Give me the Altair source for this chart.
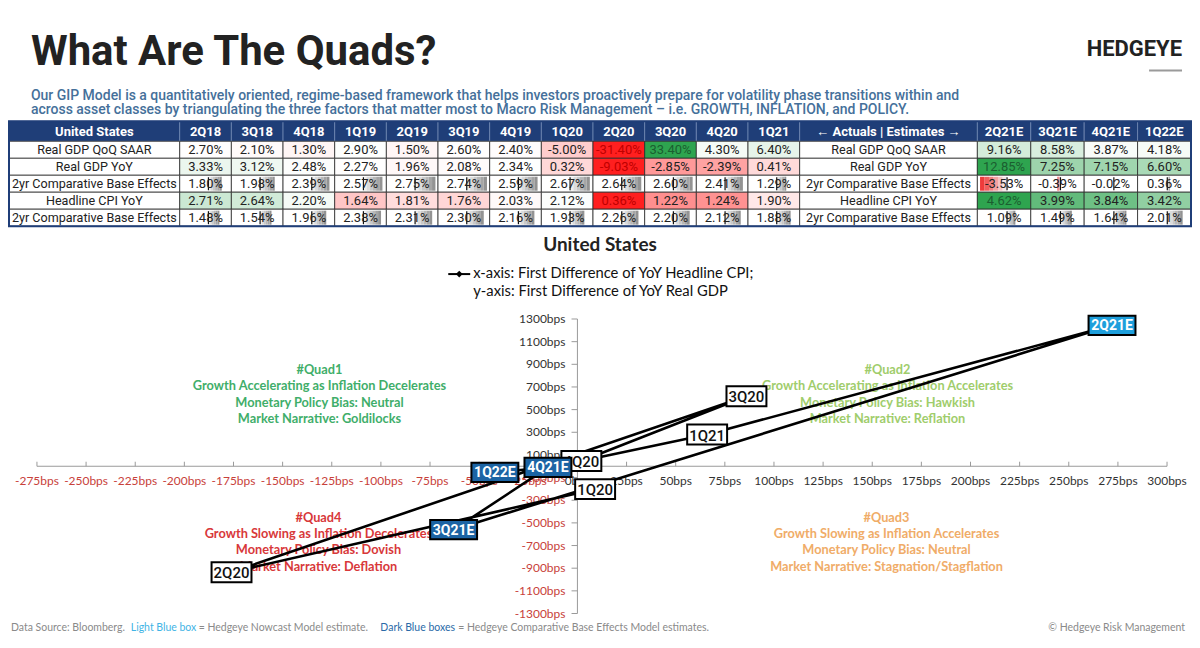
import altair as alt
import pandas as pd

# ---------------- table data ----------------
actual_quarters = ["2Q18", "3Q18", "4Q18", "1Q19", "2Q19", "3Q19", "4Q19", "1Q20", "2Q20", "3Q20", "4Q20", "1Q21"]
estimate_quarters = ["2Q21E", "3Q21E", "4Q21E", "1Q22E"]
nowcast_quarters = ["2Q21E"]
row_labels = ["Real GDP QoQ SAAR", "Real GDP YoY", "2yr Comparative Base Effects",
              "Headline CPI YoY", "2yr Comparative Base Effects"]

gdp_qoq_actual = [2.70, 2.10, 1.30, 2.90, 1.50, 2.60, 2.40, -5.00, -31.40, 33.40, 4.30, 6.40]
gdp_qoq_est = [9.16, 8.58, 3.87, 4.18]
gdp_yoy_actual = [3.33, 3.12, 2.48, 2.27, 1.96, 2.08, 2.34, 0.32, -9.03, -2.85, -2.39, 0.41]
gdp_yoy_est = [12.85, 7.25, 7.15, 6.60]
gdp_base_actual = [1.80, 1.98, 2.39, 2.57, 2.75, 2.74, 2.59, 2.67, 2.64, 2.60, 2.41, 1.29]
gdp_base_est = [-3.53, -0.39, -0.02, 0.36]
cpi_yoy_actual = [2.71, 2.64, 2.20, 1.64, 1.81, 1.76, 2.03, 2.12, 0.36, 1.22, 1.24, 1.90]
cpi_yoy_est = [4.62, 3.99, 3.84, 3.42]
cpi_base_actual = [1.48, 1.54, 1.96, 2.38, 2.31, 2.30, 2.16, 1.93, 2.26, 2.20, 2.12, 1.88]
cpi_base_est = [1.09, 1.49, 1.64, 2.01]

# ---------------- chart axes ----------------
x_domain = [-275, 300]
y_domain = [-1300, 1300]
x_ticks = [-275, -250, -225, -200, -175, -150, -125, -100, -75, -50, -25, 0,
           25, 50, 75, 100, 125, 150, 175, 200, 225, 250, 275, 300]
y_ticks = [1300, 1100, 900, 700, 500, 300, 100, -100, -300, -500, -700, -900, -1100, -1300]

quad_texts = {
    "Quad1": ["#Quad1", "Growth Accelerating as Inflation Decelerates", "Monetary Policy Bias: Neutral", "Market Narrative: Goldilocks"],
    "Quad2": ["#Quad2", "Growth Accelerating as Inflation Accelerates", "Monetary Policy Bias: Hawkish", "Market Narrative: Reflation"],
    "Quad3": ["#Quad3", "Growth Slowing as Inflation Accelerates", "Monetary Policy Bias: Neutral", "Market Narrative: Stagnation/Stagflation"],
    "Quad4": ["#Quad4", "Growth Slowing as Inflation Decelerates", "Monetary Policy Bias: Dovish", "Market Narrative: Deflation"],
}

W = 1184
one = pd.DataFrame({"k": [0]})


def txt(text, x, y, **kw):
    return alt.Chart(one).mark_text(text=text, **kw).encode(x=alt.value(x), y=alt.value(y))


# ================= header =================
sub1 = ("Our GIP Model is a quantitatively oriented, regime-based framework that helps investors "
        "proactively prepare for volatility phase transitions within and")
sub2 = ("across asset classes by triangulating the three factors that matter most to Macro Risk "
        "Management \u2013 i.e. GROWTH, INFLATION, and POLICY.")
header = alt.layer(
    txt("What Are The Quads?", 22, 57, align="left", baseline="alphabetic", font="Roboto",
        fontSize=42, fontWeight="bold", color="#222222"),
    txt("HEDGEYE", 1175, 48, align="right", baseline="alphabetic", font="Roboto",
        fontSize=22, fontWeight="bold", color="#222222"),
    alt.Chart(one).mark_rule(color="#9a9a9a", strokeWidth=2).encode(
        x=alt.value(1142), x2=alt.value(1175), y=alt.value(62)),
    txt(sub1, 22, 87.5, align="left", baseline="middle", font="Roboto", fontSize=14,
        fontWeight=500, color="#45709a"),
    txt(sub2, 22, 101.5, align="left", baseline="middle", font="Roboto", fontSize=14,
        fontWeight=500, color="#45709a"),
).properties(width=W, height=112)

# ================= table =================
TB_H = 106
label_w, mid_w, act_w = 171, 178, 51.75
est_w = (W - label_w - mid_w - act_w * len(actual_quarters)) / len(estimate_quarters)
cols = [("label", 0, label_w)]
cx = label_w
for q in actual_quarters:
    cols.append((q, cx, cx + act_w)); cx += act_w
cols.append(("mid", cx, cx + mid_w)); cx += mid_w
for q in estimate_quarters:
    cols.append((q, cx, cx + est_w)); cx += est_w
value_names = actual_quarters + estimate_quarters
head_y0, head_y1, row_h = 1, 21, 17
mid_header = "\u2190  Actuals  |  Estimates  \u2192"

table_rows = [
    (row_labels[0], gdp_qoq_actual + gdp_qoq_est, "heat"),
    (row_labels[1], gdp_yoy_actual + gdp_yoy_est, "heat"),
    (row_labels[2], gdp_base_actual + gdp_base_est, "bar"),
    (row_labels[3], cpi_yoy_actual + cpi_yoy_est, "heat"),
    (row_labels[4], cpi_base_actual + cpi_base_est, "bar"),
]


def norm_row(vals):
    s = sorted(vals)
    n = len(s)
    med = (s[n // 2 - 1] + s[n // 2]) / 2
    lo, hi = min(vals), max(vals)
    return [(v - med) / (hi - med) if v >= med else -(med - v) / (med - lo) for v in vals]


bar_vals = gdp_base_actual + gdp_base_est + cpi_base_actual + cpi_base_est
bar_lo, bar_hi = min(bar_vals), max(bar_vals)
frac0 = 0.05 + 0.9 * (-bar_lo) / (bar_hi - bar_lo)
N_SLICES = 6  # data bars drawn as shaded slices (gradient look)

head, body, bars, axes_ = [], [], [], []
for name, x0, x1 in cols:
    t = "United States" if name == "label" else (mid_header if name == "mid" else name)
    head.append(dict(x0=x0, x1=x1, y0=head_y0, y1=head_y1, xc=(x0 + x1) / 2,
                     yc=(head_y0 + head_y1) / 2 + 0.5, text=t))
for r, (lab, vals, kind) in enumerate(table_rows):
    y0 = head_y1 + r * row_h
    y1 = y0 + row_h
    norms = norm_row(vals) if kind == "heat" else [0.0] * len(vals)
    for name, x0, x1 in cols:
        base = dict(x0=x0, x1=x1, y0=y0, y1=y1, xc=(x0 + x1) / 2, yc=(y0 + y1) / 2 + 0.5)
        if name in ("label", "mid"):
            body.append(dict(base, text=lab, norm=0.0, tcolor="#222222", role="label"))
            continue
        j = value_names.index(name)
        v, n = vals[j], norms[j]
        tcolor = "#c00000" if n <= -0.85 else ("#1b5e30" if n >= 0.85 else "#222222")
        body.append(dict(base, text=f"{v:.2f}%", norm=n, tcolor=tcolor, role="value"))
        if kind == "bar":
            w = x1 - x0
            ax = x0 + w * frac0
            end = ax + w * 0.9 * v / (bar_hi - bar_lo)
            for s in range(N_SLICES):
                a = ax + (end - ax) * s / N_SLICES
                b = ax + (end - ax) * (s + 1) / N_SLICES
                shade = (s + 0.5) / N_SLICES
                bars.append(dict(b0=min(a, b), b1=max(a, b), y0=y0 + 1.5, y1=y1 - 1.5,
                                 shade=shade if v >= 0 else -shade))
            axes_.append(dict(ax=ax, y0=y0 + 2, y1=y1 - 2))

head_df, body_df = pd.DataFrame(head), pd.DataFrame(body)
bars_df, axes_df = pd.DataFrame(bars), pd.DataFrame(axes_)
frame_df = pd.DataFrame([dict(x0=0, x1=W, y0=head_y0, y1=TB_H)])

tx = alt.Scale(domain=[0, W], nice=False, zero=False)
ty = alt.Scale(domain=[0, TB_H], reverse=True, nice=False, zero=False)


def cell_enc(xf="x0", x2f="x1", yf="y0", y2f="y1"):
    return dict(x=alt.X(f"{xf}:Q", scale=tx, axis=None), x2=f"{x2f}:Q",
                y=alt.Y(f"{yf}:Q", scale=ty, axis=None), y2=f"{y2f}:Q")


def body_text(role, size):
    return alt.Chart(body_df).transform_filter(f"datum.role == '{role}'").mark_text(
        font="Roboto", fontSize=size, baseline="middle").encode(
        x=alt.X("xc:Q", scale=tx, axis=None), y=alt.Y("yc:Q", scale=ty, axis=None), text="text:N",
        color=alt.Color("tcolor:N", scale=None))


table = alt.layer(
    alt.Chart(head_df).mark_rect(fill="#1f3e78", stroke="#7088b3", strokeWidth=0.8).encode(**cell_enc()),
    alt.Chart(body_df).mark_rect(stroke="#2a2a2a", strokeWidth=0.8).encode(
        fill=alt.Fill("norm:Q", scale=alt.Scale(domain=[-1, 0, 1], range=["#ff1f1f", "#ffffff", "#2ea44f"],
                                                interpolate="rgb"), legend=None),
        **cell_enc()),
    alt.Chart(bars_df).mark_rect(strokeWidth=0).encode(
        color=alt.Color("shade:Q", scale=alt.Scale(domain=[-1, 0, 1], range=["#ee2a2a", "#f6f6f6", "#8a8a8a"],
                                                   interpolate="rgb"), legend=None),
        **cell_enc("b0", "b1")),
    alt.Chart(axes_df).mark_rule(color="#111111", strokeWidth=1.2).encode(
        x=alt.X("ax:Q", scale=tx, axis=None), y=alt.Y("y0:Q", scale=ty, axis=None), y2="y1:Q"),
    alt.Chart(head_df).mark_text(font="Roboto", fontSize=13, fontWeight="bold", color="white",
                                 baseline="middle").encode(
        x=alt.X("xc:Q", scale=tx, axis=None), y=alt.Y("yc:Q", scale=ty, axis=None), text="text:N"),
    body_text("value", 13),
    body_text("label", 12.6),
    alt.Chart(frame_df).mark_rect(fillOpacity=0, stroke="#1f3e78", strokeWidth=2).encode(**cell_enc()),
).resolve_scale(color="independent").properties(width=W, height=TB_H)

# ================= quad chart =================
all_q = actual_quarters + estimate_quarters
cpi_all = cpi_yoy_actual + cpi_yoy_est
gdp_all = gdp_yoy_actual + gdp_yoy_est
start = all_q.index("1Q20")
pts = []
for i in range(start, len(all_q)):
    q = all_q[i]
    kind = "actual" if q in actual_quarters else ("Nowcast" if q in nowcast_quarters else "Base")
    pts.append(dict(q=q, seq=i, dx=round((cpi_all[i] - cpi_all[i - 1]) * 100),
                    dy=round((gdp_all[i] - gdp_all[i - 1]) * 100), kind=kind))
pts_df = pd.DataFrame(pts)
act_df = pts_df[pts_df.kind == "actual"]
est_df = pts_df[pts_df.kind != "actual"]

xs = alt.Scale(domain=x_domain, range=[28, 1160], nice=False, zero=False)
ys = alt.Scale(domain=y_domain, range=[388, 93], nice=False, zero=False)


def X(f):
    return alt.X(f, scale=xs, axis=None)


def Y(f):
    return alt.Y(f, scale=ys, axis=None)


xt_df = pd.DataFrame({"v": x_ticks})
xt_df["lab"] = xt_df.v.astype(str) + "bps"
xt_df["sign"] = ["neg" if v < 0 else "pos" for v in x_ticks]
xt_df["z"] = 0
xt_df["tick_top"] = 40
yt_df = pd.DataFrame({"v": y_ticks})
yt_df["lab"] = yt_df.v.astype(str) + "bps"
yt_df["sign"] = ["neg" if v < 0 else "pos" for v in y_ticks]
yt_df["z"] = 0
yt_df["tick_left"] = -3
sign_color = alt.Color("sign:N", scale=alt.Scale(domain=["neg", "pos"], range=["#c8413b", "#333333"]), legend=None)
axis_df = pd.DataFrame([dict(x0=x_domain[0], x1=x_domain[1], y0=y_domain[0], y1=y_domain[1], z=0)])

quad_pos = {"Quad1": (311, 144, "#3fae6a"), "Quad2": (880, 144, "#9fcd6c"),
            "Quad3": (879, 292, "#f0ac68"), "Quad4": (310, 292, "#d8383a")}
quad_layers = []
for k, (px, py, c) in quad_pos.items():
    for li, line in enumerate(quad_texts[k]):
        quad_layers.append(txt(line, px, py + 16.4 * li, align="center", baseline="middle",
                               font="Lato", fontSize=12.8, fontWeight="bold", color=c))

box_a = "M-1,-0.5L1,-0.5L1,0.5L-1,0.5Z"
box_e = "M-1,-0.41L1,-0.41L1,0.41L-1,0.41Z"

ft_grey, ft_light, ft_dark = "#8a8a8a", "#3fb4e5", "#2a6aa8"
fkw = dict(align="left", baseline="middle", font="Lato", fontSize=10.5)

quad = alt.layer(
    *quad_layers,
    alt.Chart(axis_df).mark_rule(color="#9a9a9a", strokeWidth=1).encode(x=X("x0:Q"), x2="x1:Q", y=Y("z:Q")),
    alt.Chart(axis_df).mark_rule(color="#9a9a9a", strokeWidth=1).encode(x=X("z:Q"), y=Y("y0:Q"), y2="y1:Q"),
    alt.Chart(xt_df).mark_rule(color="#9a9a9a").encode(x=X("v:Q"), y=Y("z:Q"), y2="tick_top:Q"),
    alt.Chart(yt_df).mark_rule(color="#9a9a9a").encode(x=X("tick_left:Q"), x2="z:Q", y=Y("v:Q")),
    alt.Chart(xt_df).mark_text(font="Lato", fontSize=12, dy=15, baseline="middle").encode(
        x=X("v:Q"), y=Y("z:Q"), text="lab:N", color=sign_color),
    alt.Chart(yt_df).mark_text(font="Lato", fontSize=12, dx=-12, align="right", baseline="middle").encode(
        x=X("z:Q"), y=Y("v:Q"), text="lab:N", color=sign_color),
    txt("United States", 592, 19, align="center", baseline="middle", font="Lato", fontSize=19,
        fontWeight="bold", color="#222222"),
    alt.Chart(one).mark_rule(color="black", strokeWidth=2).encode(x=alt.value(440), x2=alt.value(462), y=alt.value(48)),
    alt.Chart(one).mark_point(shape="diamond", filled=True, size=45, color="black", opacity=1).encode(
        x=alt.value(451), y=alt.value(48)),
    txt("x-axis: First Difference of YoY Headline CPI;", 465, 48, align="left", baseline="middle",
        font="Lato", fontSize=14.8, color="#111111"),
    txt("y-axis: First Difference of YoY Real GDP", 465, 66, align="left", baseline="middle",
        font="Lato", fontSize=14.8, color="#111111"),
    alt.Chart(pts_df).mark_line(color="black", strokeWidth=2.6, strokeJoin="round").encode(
        x=X("dx:Q"), y=Y("dy:Q"), order="seq:Q"),
    alt.Chart(act_df).mark_point(shape=box_a, size=1600, filled=True, fill="white", stroke="black",
                                 strokeWidth=2, opacity=1).encode(x=X("dx:Q"), y=Y("dy:Q")),
    alt.Chart(act_df).mark_text(font="Roboto", fontSize=15, fontWeight=500, color="#111111",
                                baseline="middle", dy=1).encode(x=X("dx:Q"), y=Y("dy:Q"), text="q:N"),
    alt.Chart(est_df).mark_point(shape=box_e, size=2209, filled=True, stroke="black", strokeWidth=2,
                                 opacity=1).encode(
        x=X("dx:Q"), y=Y("dy:Q"),
        fill=alt.Fill("kind:N", scale=alt.Scale(domain=["Nowcast", "Base"], range=["#1e9fdc", "#1c64a4"]),
                      legend=None)),
    alt.Chart(est_df).mark_text(font="Roboto", fontSize=14, fontWeight="bold", color="white",
                                baseline="middle", dy=1).encode(x=X("dx:Q"), y=Y("dy:Q"), text="q:N"),
    txt("Data Source: Bloomberg.", 2, 403, color=ft_grey, **fkw),
    txt("Light Blue box", 122, 403, color=ft_light, **fkw),
    txt("= Hedgeye Nowcast Model estimate.", 190, 403, color=ft_grey, **fkw),
    txt("Dark Blue boxes", 372, 403, color=ft_dark, **fkw),
    txt("= Hedgeye Comparative Base Effects Model estimates.", 450, 403, color=ft_grey, **fkw),
    txt("\u00a9 Hedgeye Risk Management", 1178, 403, align="right", baseline="middle", font="Lato",
        fontSize=10.5, color=ft_grey),
).properties(width=W, height=408)

chart = alt.vconcat(header, table, quad, spacing=0, bounds="flush").resolve_scale(
    x="independent", y="independent", color="independent", fill="independent"
).properties(padding=0, background="white").configure_view(stroke=None)

chart.save("out.html", embed_options={"renderer": "svg", "actions": False})
